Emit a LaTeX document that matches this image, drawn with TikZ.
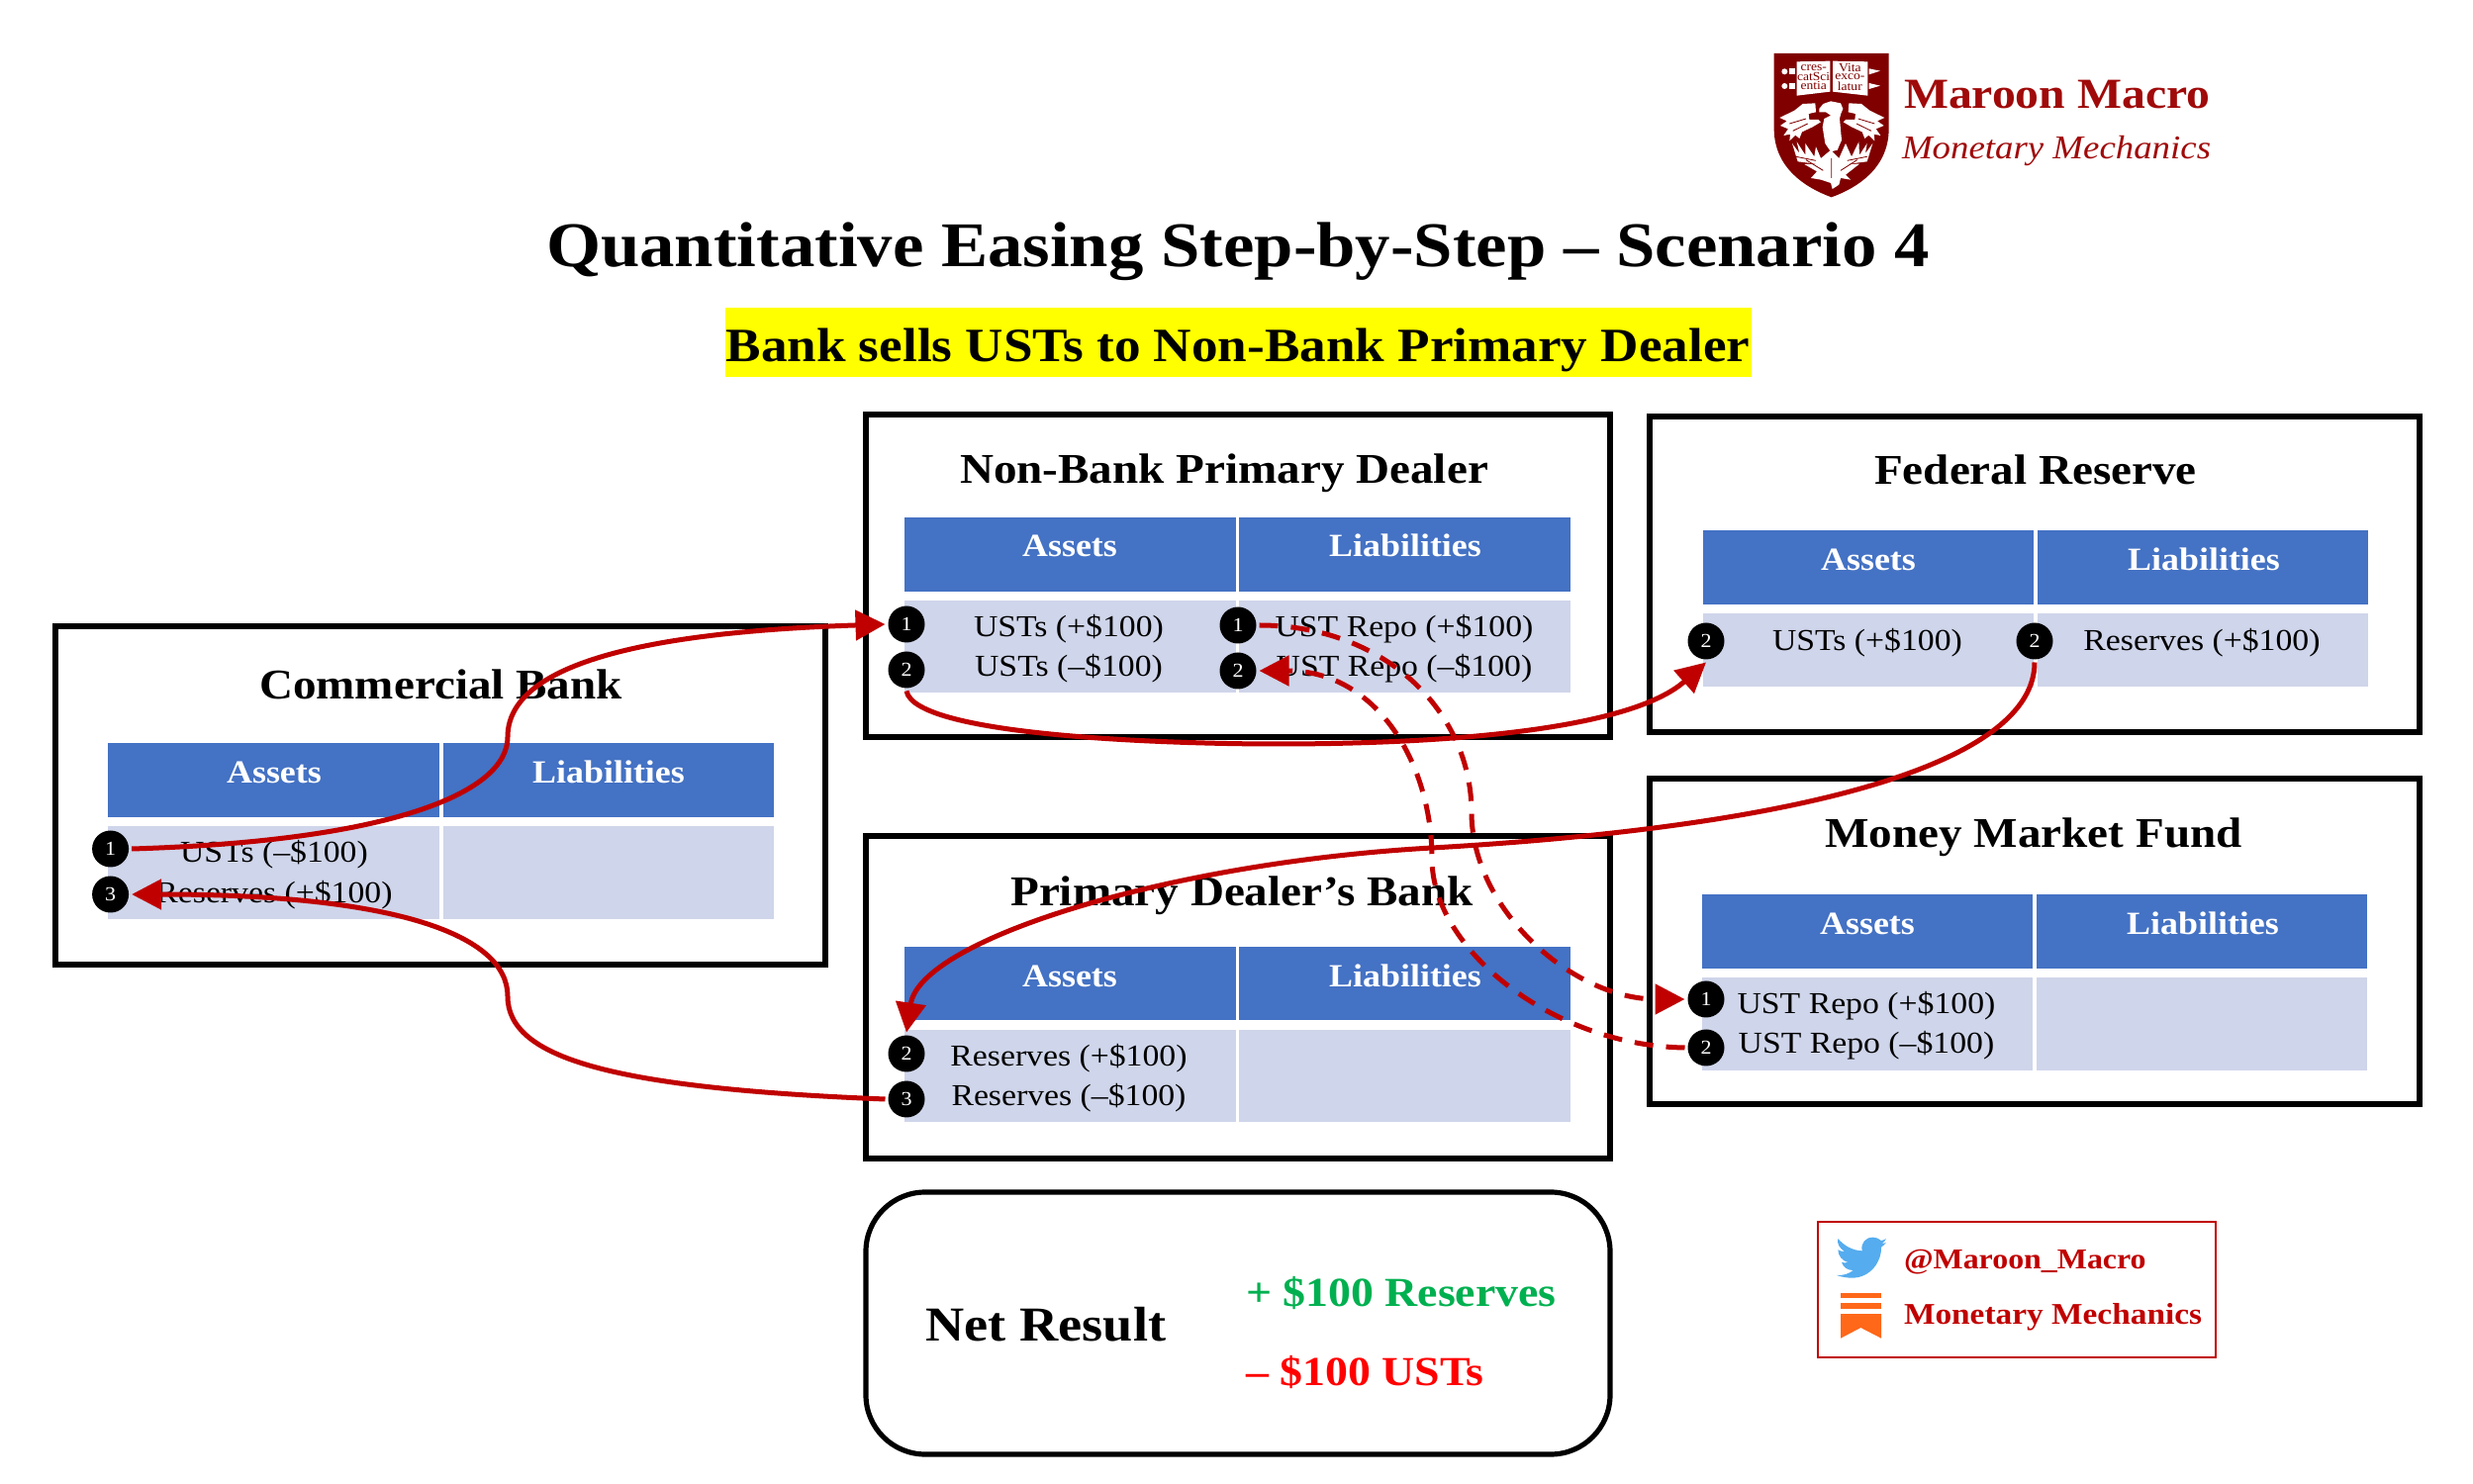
\documentclass[tikz,border=0pt]{standalone}
\usepackage{fontspec}
\setmainfont[FakeStretch=1.1]{Liberation Serif}
\usetikzlibrary{arrows.meta}
\definecolor{hdr}{HTML}{4472C4}
\definecolor{bodyc}{HTML}{CFD5EA}
\definecolor{arrowred}{HTML}{C00000}
\definecolor{logored}{HTML}{800000}
\definecolor{logotext}{HTML}{A00A0A}
\definecolor{hiyellow}{HTML}{FFFF00}
\definecolor{purered}{HTML}{FF0000}
\definecolor{netgreen}{HTML}{00B050}
\definecolor{birdblue}{HTML}{55ACEE}
\definecolor{stackorange}{HTML}{FF6719}
\newcommand{\fs}[1]{\fontsize{#1pt}{#1pt}\selectfont}
\newcommand{\rcell}[6]{\node[#1,anchor=north west,minimum width={(#5-#3)*0.3pt},minimum height={(#6-#4)*0.3pt}] (#2) at (#3,#4) {};}
\tikzset{
  x=0.3pt,y=-0.3pt,
  every node/.style={inner sep=0pt,outer sep=0pt},
  frame/.style={draw=black,line width=1.55pt,fill=white},
  headcell/.style={fill=hdr},
  bodycell/.style={fill=bodyc},
  boxtitle/.style={font=\fs{12.85}\bfseries,text height=0.7em,text depth=0.2em},
  headtext/.style={font=\fs{9.8}\bfseries,text=white,text height=0.7em,text depth=0.2em},
  bodytext/.style={font=\fs{9.2},text height=0.7em,text depth=0.2em},
  badge/.style={circle,fill=black,text=white,font=\fs{6},minimum size={37*0.3pt},outer sep={3*0.3pt}},
  flow/.style={draw=arrowred,line width=1.5pt,-{Triangle[length={30*0.3pt},width={30*0.3pt}]}},
  flowdash/.style={flow,dash pattern=on {19*0.3pt} off {13*0.3pt}},
}
\begin{document}
\begin{tikzpicture}
\useasboundingbox (0,0) rectangle (2499,1500);
% title
\node[font=\fs{19.3}\bfseries] (maintitle) at (1251,254) {Quantitative Easing Step-by-Step – Scenario 4};
\rcell{fill=hiyellow}{subbg}{733}{311}{1770}{381}
\node[font=\fs{14.5}\bfseries] (subtitle) at (1251,354) {Bank sells USTs to Non-Bank Primary Dealer};
% logo
\begin{scope}[shift={(1785,45)},x=0.1pt,y=-0.1pt]
  \fill[logored] (23,27) -- (371,27) -- (371,255) .. controls (371,375) and (275,435) .. (197,463) .. controls (120,435) and (23,375) .. (23,255) -- cycle;
  \fill[white] (92,52) -- (193,50) -- (193,143) -- (92,155) -- cycle;
  \fill[white] (201,50) -- (307,52) -- (307,155) -- (201,143) -- cycle;
  \fill[white] (55,82) circle (9); \fill[white] (69,73) rectangle (87,91);
  \fill[white] (55,126) circle (9); \fill[white] (69,117) rectangle (87,135);
  \fill[white] (311,73) -- (345,80) -- (311,91) -- cycle;
  \fill[white] (311,117) -- (345,125) -- (311,135) -- cycle;
  \foreach \n/\yy/\t in {la/70/cres-,lb/98/catSci,lc/125/entia}
    \node[font=\fs{3.7},text=logored] (book\n) at (143,\yy) {\t};
  \foreach \n/\yy/\t in {ra/70/Vita,rb/98/exco-,rc/127/latur}
    \node[font=\fs{3.7},text=logored] (book\n) at (253,\yy) {\t};
  % phoenix
  \fill[white] (148,178) -- (110,180) -- (85,200) -- (40,222) -- (62,232) -- (42,246) -- (66,256) -- (52,276) -- (72,272) -- (70,292) -- (88,275) -- (100,285) -- (108,265) -- (140,250) -- (165,235) -- (158,228) -- (130,228) -- (128,210) -- (150,205) -- cycle;
  \fill[white] (250,178) -- (288,180) -- (313,200) -- (358,222) -- (336,232) -- (356,246) -- (332,256) -- (346,276) -- (326,272) -- (328,292) -- (310,275) -- (298,285) -- (290,265) -- (258,250) -- (233,235) -- (240,228) -- (268,228) -- (270,210) -- (248,205) -- cycle;
  \fill[white] (160,195) -- (172,180) -- (195,172) -- (225,178) -- (232,195) -- (225,212) -- (222,225) -- (228,290) -- (215,320) -- (195,325) -- (178,300) -- (170,250) -- (175,225) -- (195,215) -- (180,205) -- (160,205) -- cycle;
  \fill[white] (78,300) -- (100,330) -- (92,295) -- (118,335) -- (118,300) -- (145,340) -- (150,310) -- (165,345) -- (195,320) -- (220,345) -- (240,300) -- (258,340) -- (280,295) -- (282,335) -- (305,300) -- (300,330) -- (322,300) -- (305,355) -- (240,363) -- (282,362) -- (240,395) -- (255,410) -- (225,405) -- (220,425) -- (200,438) -- (195,420) -- (165,410) -- (135,405) -- (153,385) -- (115,363) -- (160,363) -- (95,355) -- cycle;
  \draw[logored,line width=0.25pt] (90,340) -- (150,352) (120,350) -- (172,382) (305,340) -- (245,352) (275,350) -- (225,382) (197,345) -- (197,405) (70,240) -- (120,225) (80,262) -- (125,240) (328,240) -- (278,225) (318,262) -- (273,240);
\end{scope}
\node[anchor=west,font=\fs{13}\bfseries,text=logotext] (logoa) at (1924,96) {Maroon Macro};
\node[anchor=west,font=\fs{10.05}\itshape,text=logotext] (logob) at (1922,153) {Monetary Mechanics};
% Commercial Bank
\rcell{frame}{cb}{56}{633}{834}{975}
\node[boxtitle] (cbt) at (445.5,698) {Commercial Bank};
\rcell{headcell}{cbha}{109}{751}{444}{826}
\rcell{headcell}{cbhl}{448}{751}{782}{826}
\rcell{bodycell}{cbba}{109}{835}{444}{929}
\rcell{bodycell}{cbbl}{448}{835}{782}{929}
\node[headtext] (cbta) at (277,783) {Assets};
\node[headtext] (cbtl) at (615,783) {Liabilities};
\node[bodytext] (cbx1) at (277,863) {USTs (–\$100)};
\node[bodytext] (cbx2) at (277,904) {Reserves (+\$100)};
\node[badge] (cb1) at (111.6,858) {1};
\node[badge] (cb3) at (111.6,904) {3};
% Non-Bank Primary Dealer
\rcell{frame}{nb}{875}{419}{1627}{745}
\node[boxtitle] (nbt) at (1237,480) {Non-Bank Primary Dealer};
\rcell{headcell}{nbha}{914}{523}{1249}{598}
\rcell{headcell}{nbhl}{1252}{523}{1587}{598}
\rcell{bodycell}{nbba}{914}{607}{1249}{700}
\rcell{bodycell}{nbbl}{1252}{607}{1587}{700}
\node[headtext] (nbta) at (1081,554) {Assets};
\node[headtext] (nbtl) at (1420,554) {Liabilities};
\node[bodytext] (nbx1) at (1080,635) {USTs (+\$100)};
\node[bodytext] (nbx2) at (1080,675) {USTs (–\$100)};
\node[bodytext] (nbx3) at (1419,635) {UST Repo (+\$100)};
\node[bodytext] (nbx4) at (1419,675) {UST Repo (–\$100)};
\node[badge] (nba1) at (916,631) {1};
\node[badge] (nba2) at (916,677) {2};
\node[badge] (nbl1) at (1251,632) {1};
\node[badge] (nbl2) at (1251,678) {2};
% Primary Dealer's Bank
\rcell{frame}{pd}{875}{845}{1627}{1171}
\node[boxtitle] (pdt) at (1255,907) {Primary Dealer’s Bank};
\rcell{headcell}{pdha}{914}{957}{1249}{1031}
\rcell{headcell}{pdhl}{1252}{957}{1587}{1031}
\rcell{bodycell}{pdba}{914}{1041}{1249}{1134}
\rcell{bodycell}{pdbl}{1252}{1041}{1587}{1134}
\node[headtext] (pdta) at (1081,989) {Assets};
\node[headtext] (pdtl) at (1420,989) {Liabilities};
\node[bodytext] (pdx1) at (1080,1069) {Reserves (+\$100)};
\node[bodytext] (pdx2) at (1080,1109) {Reserves (–\$100)};
\node[badge] (pd2) at (916,1065) {2};
\node[badge] (pd3) at (916,1111) {3};
% Federal Reserve
\rcell{frame}{fr}{1667}{421}{2445}{740}
\node[boxtitle] (frt) at (2057,481) {Federal Reserve};
\rcell{headcell}{frha}{1721}{536}{2055}{611}
\rcell{headcell}{frhl}{2059}{536}{2393}{611}
\rcell{bodycell}{frba}{1721}{620}{2055}{694}
\rcell{bodycell}{frbl}{2059}{620}{2393}{694}
\node[headtext] (frta) at (1888,568) {Assets};
\node[headtext] (frtl) at (2227,568) {Liabilities};
\node[bodytext] (frx1) at (1887,649) {USTs (+\$100)};
\node[bodytext] (frx2) at (2225,649) {Reserves (+\$100)};
\node[badge] (fra) at (1724,648) {2};
\node[badge] (frl) at (2056,648) {2};
% Money Market Fund
\rcell{frame}{mm}{1667}{787}{2445}{1116}
\node[boxtitle] (mmt) at (2055,848) {Money Market Fund};
\rcell{headcell}{mmha}{1720}{904}{2054}{979}
\rcell{headcell}{mmhl}{2058}{904}{2392}{979}
\rcell{bodycell}{mmba}{1720}{988}{2054}{1082}
\rcell{bodycell}{mmbl}{2058}{988}{2392}{1082}
\node[headtext] (mmta) at (1887,936) {Assets};
\node[headtext] (mmtl) at (2226,936) {Liabilities};
\node[bodytext] (mmx1) at (1886,1016) {UST Repo (+\$100)};
\node[bodytext] (mmx2) at (1886,1056) {UST Repo (–\$100)};
\node[badge] (mm1) at (1724,1010) {1};
\node[badge] (mm2) at (1724,1059) {2};
% Net result
\rcell{draw=black,line width=1.55pt,rounded corners={60*0.3pt},fill=white}{net}{875}{1205}{1627}{1470}
\node[font=\fs{14.8}\bfseries] (netl) at (1057,1339) {Net Result};
\node[anchor=west,font=\fs{12.5}\bfseries,text=netgreen] (netp) at (1259,1307) {+ \$100 Reserves};
\node[anchor=west,font=\fs{12.5}\bfseries,text=purered] (netm) at (1259,1387) {– \$100 USTs};
% social box
\rcell{draw=arrowred,line width=0.8pt}{soc}{1837}{1235}{2239}{1372}
\node[anchor=west,font=\fs{8.7}\bfseries,text=arrowred] (soca) at (1924,1276) {@Maroon\_Macro};
\node[anchor=west,font=\fs{9.1}\bfseries,text=arrowred] (socb) at (1924,1331) {Monetary Mechanics};
\begin{scope}[shift={(1800,1210)},x=0.1pt,y=-0.1pt]
  \fill[birdblue] (168,237) .. controls (190,238) and (205,232) .. (218,222) .. controls (200,222) and (188,212) .. (183,198) .. controls (190,200) and (196,199) .. (202,198) .. controls (185,193) and (172,178) .. (172,160) .. controls (178,163) and (184,165) .. (192,165) .. controls (176,155) and (168,140) .. (172,126) .. controls (190,147) and (215,162) .. (245,163) .. controls (240,140) and (255,122) .. (278,122) .. controls (288,122) and (296,126) .. (303,132) .. controls (310,131) and (316,128) .. (318,125) .. controls (315,132) and (311,138) .. (305,141) .. controls (310,141) and (315,139) .. (318,137) .. controls (314,143) and (309,148) .. (303,152) .. controls (305,195) and (270,245) .. (215,245) .. controls (198,245) and (182,242) .. (168,237) -- cycle;
  \fill[stackorange] (180,291) rectangle (303,307);
  \fill[stackorange] (180,321) rectangle (303,339);
  \fill[stackorange] (180,354) -- (303,354) -- (303,428) -- (241,396) -- (180,428) -- cycle;
\end{scope}
% connectors
\draw[flow] (cb1.east) .. controls (400,850) and (513,800) .. (513,745) .. controls (513,680) and (620,640) .. (nba1.west);
\draw[flow] (pd3.west) .. controls (620,1100) and (513,1070) .. (513,1007) .. controls (513,945) and (400,904) .. (cb3.east);
\draw[flow] (nba2.south) .. controls (925,745) and (1190,752) .. (1290,752) .. controls (1480,752) and (1650,735) .. (fra.south);
\draw[flow] (frl.south) .. controls (2056,770) and (1830,835) .. (1447,857) .. controls (1180,872) and (930,950) .. (pd2.north);
\draw[flowdash] (nbl1.east) .. controls (1400,632) and (1487,720) .. (1487,821) .. controls (1487,920) and (1590,1010) .. (mm1.west);
\draw[flowdash] (mm2.west) .. controls (1570,1057) and (1447,960) .. (1447,868) .. controls (1447,770) and (1390,678) .. (nbl2.east);
\end{tikzpicture}
\end{document}
